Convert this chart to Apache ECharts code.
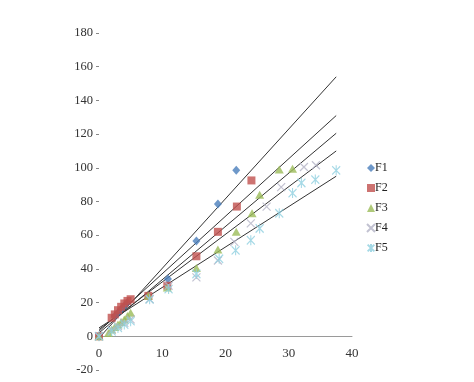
<!DOCTYPE html>
<html>
<head>
<meta charset="utf-8">
<script src="https://cdn.jsdelivr.net/npm/echarts@6/dist/echarts.min.js"></script>
<style>
html,body{margin:0;padding:0;background:#fff;}
#c{width:474px;height:382px;}
</style>
</head>
<body>
<div id="c"></div>
<script>
// ---- data ----
const seriesNames = ['F1', 'F2', 'F3', 'F4', 'F5'];

const f1X = [0, 2.5, 3, 3.5, 4, 4.5, 10.9, 15.4, 18.8, 21.7];
const f1Y = [0, 12, 14, 16, 18, 20, 34, 56.5, 78.5, 98.5];

const f2X = [0, 2, 2.5, 3, 3.5, 4, 4.5, 5, 7.8, 10.8, 15.4, 18.8, 21.8, 24.1];
const f2Y = [0, 11, 13, 15.5, 17.5, 19.5, 21, 22, 24, 30, 47.5, 62, 77, 92.5];

const f3X = [0, 1.5, 2, 2.5, 3, 3.5, 4, 4.5, 5, 7.8, 10.8, 15.4, 18.8, 21.7, 24.2, 25.4, 28.5, 30.6];
const f3Y = [0, 2, 4, 5.5, 7, 8.5, 10, 12, 14, 24, 29, 40.5, 51.5, 62, 73, 84, 99, 99.5];

const f4X = [0, 2, 3, 4, 5, 8, 11, 15.4, 18.8, 21.4, 24, 26.5, 28.8, 32.4, 34.3];
const f4Y = [0, 4, 6, 8, 10, 22, 30, 35, 45, 56, 67, 77, 88.5, 100.5, 101.5];

const f5X = [0, 2, 3, 4, 5, 8, 11, 15.4, 19, 21.6, 24, 25.4, 28.5, 30.6, 32, 34.2, 37.5];
const f5Y = [0, 3, 5, 7, 9, 22, 28, 37, 46, 51, 57, 64, 73, 85, 91, 93, 98.5];

// trend lines: start and end x, y at start and end for each of the 5 lines
const trendX = [0, 37.5];
const trendStartY = [-1, 3, 2, 4, 5];
const trendEndY = [154, 131, 120.5, 110, 95];

const yTicks = [-20, 0, 20, 40, 60, 80, 100, 120, 140, 160, 180];
const xTicks = [0, 10, 20, 30, 40];

// ---- styling ----
const colors = ['#4a7ebb', '#c0504d', '#9bbb59', '#b3b3c6', '#8ecfe0'];
const xPath = 'path://M0,0L10,10M10,0L0,10';
const starPath = 'path://M0,0L10,10M10,0L0,10M5,-1L5,11';
const symbols = ['diamond', 'rect', 'triangle', xPath, starPath];
const sizes = [[8, 9], 8, [9, 8], 8, [8, 10]];
const font = '"Liberation Serif", "Times New Roman", serif';

function pairs(xs, ys) { return xs.map((x, i) => [x, ys[i]]); }
const allX = [f1X, f2X, f3X, f4X, f5X];
const allY = [f1Y, f2Y, f3Y, f4Y, f5Y];

const series = [];
for (let i = 0; i < 5; i++) {
  series.push({
    type: 'line',
    data: [[trendX[0], trendStartY[i]], [trendX[1], trendEndY[i]]],
    symbol: 'none',
    lineStyle: { color: '#333', width: 1 },
    silent: true,
    z: 1
  });
}
for (let i = 0; i < 5; i++) {
  const stroke = i >= 3;
  series.push({
    name: seriesNames[i],
    type: 'scatter',
    data: pairs(allX[i], allY[i]),
    symbol: symbols[i],
    symbolSize: sizes[i],
    itemStyle: stroke
      ? { color: 'rgba(0,0,0,0)', borderColor: colors[i], borderWidth: 1.2 }
      : { color: colors[i] },
    z: 3
  });
}

const chart = echarts.init(document.getElementById('c'), null, { renderer: 'canvas' });
chart.setOption({
  backgroundColor: '#ffffff',
  animation: false,
  grid: { left: 99, top: 33, width: 253, height: 337, containLabel: false, outerBoundsMode: 'none' },
  xAxis: {
    type: 'value', min: xTicks[0], max: xTicks[xTicks.length - 1], interval: 10,
    offset: -34,
    axisLine: { show: true, onZero: false, lineStyle: { color: '#9a9a9a', width: 1 } },
    axisTick: { show: false },
    splitLine: { show: false },
    axisLabel: { color: '#333', fontFamily: font, fontSize: 13, margin: 11 }
  },
  yAxis: {
    type: 'value', min: yTicks[0], max: yTicks[yTicks.length - 1], interval: 20,
    axisLine: { show: false },
    axisTick: { show: true, length: 3, lineStyle: { color: '#888' } },
    splitLine: { show: false },
    axisLabel: { color: '#333', fontFamily: font, fontSize: 12.5, margin: 6 }
  },
  legend: {
    data: seriesNames.map((n, i) => ({ name: n, icon: symbols[i] })),
    orient: 'vertical', left: 361, top: 157, itemGap: 8,
    itemWidth: 8, itemHeight: 8,
    textStyle: { color: '#222', fontFamily: font, fontSize: 12, padding: [0, 0, 0, -5] }
  },
  series: series
});
</script>
</body>
</html>
